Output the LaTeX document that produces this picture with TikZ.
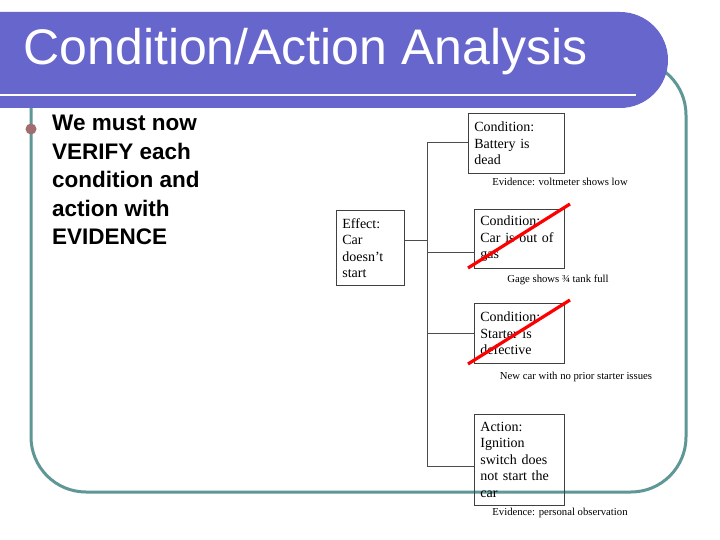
\documentclass[tikz,border=0pt]{standalone}
\usepackage{fontspec}
\setmainfont{Liberation Serif}
\newfontfamily\arial{Liberation Sans}
\begin{document}
\begin{tikzpicture}[x=1pt,y=-1pt,
  box/.style={draw=black!75,line width=0.8pt,align=left,anchor=north west,inner sep=4pt,font=\fontsize{14}{16.5}\selectfont},
  ev/.style={font=\fontsize{10.7}{12}\selectfont},
  wire/.style={draw=black!70,line width=1pt},
  cross/.style={draw=red,line width=3.2pt}]
\useasboundingbox (0,0) rectangle (720,540);
\fill[white] (0,0) rectangle (720,540);
% teal border
\draw[color={rgb,255:red,95;green,150;blue,150},line width=3pt,rounded corners=55pt] (31,100) -- (31,492) -- (686,492) -- (686,60) -- (600,60);
% title bar
\fill[color={rgb,255:red,102;green,102;blue,204},rounded corners=48pt] (-60,12) rectangle (668,108);
\fill[color={rgb,255:red,102;green,102;blue,204}] (-60,12) rectangle (300,108);
\draw[white,line width=1.5pt] (0,95) -- (636,95);
\node[anchor=west,text=white,font=\arial\fontsize{50}{52}\selectfont] (title) at (20,52) {Condition/Action Analysis};
% bullet
\fill[color={rgb,255:red,160;green,110;blue,110}] (31,129) circle (5.5);
\node[anchor=north west,align=left,font=\arial\bfseries\fontsize{22.5}{28.5}\selectfont,inner sep=0pt] (bul) at (52,115) {We must now\\VERIFY each\\condition and\\action with\\EVIDENCE};
% boxes
\node[box,minimum width=68pt,minimum height=75pt,text width=56pt] (eff) at (336,210) {Effect:\\Car\\doesn’t\\start};
\node[box,minimum width=96pt,minimum height=60pt,text width=84pt] (c1) at (468,113) {Condition:\\Battery is\\dead};
\node[box,minimum width=90pt,minimum height=59pt,text width=78pt] (c2) at (474,209) {Condition:\\Car is out of\\gas};
\node[box,minimum width=90pt,minimum height=60pt,text width=78pt] (c3) at (474,303) {Condition:\\Starter is\\defective};
\node[box,minimum width=90pt,minimum height=91pt,text width=78pt] (act) at (474,414) {Action:\\Ignition\\switch does\\not start the\\car};
% connectors
\coordinate (t1) at (427,143);
\coordinate (t2) at (427,252);
\coordinate (t3) at (427,333);
\coordinate (t4) at (427,466);
\coordinate (te) at (427,240);
\draw[wire] (t1) -- (t4);
\draw[wire] (t1) -- (c1.west |- t1);
\draw[wire] (t2) -- (c2.west |- t2);
\draw[wire] (t3) -- (c3.west |- t3);
\draw[wire] (t4) -- (act.west |- t4);
\draw[wire] (eff.east |- te) -- (te);
% evidence
\node[ev] (e1) at (560,182) {Evidence: voltmeter shows low};
\node[ev] (e2) at (558,280) {Gage shows ¾ tank full};
\node[ev] (e3) at (576,377) {New car with no prior starter issues};
\node[ev] (e4) at (560,513) {Evidence: personal observation};
% crosses
\draw[cross] (468,268) -- (570,204);
\draw[cross] (468,364) -- (570,300);
\end{tikzpicture}
\end{document}
